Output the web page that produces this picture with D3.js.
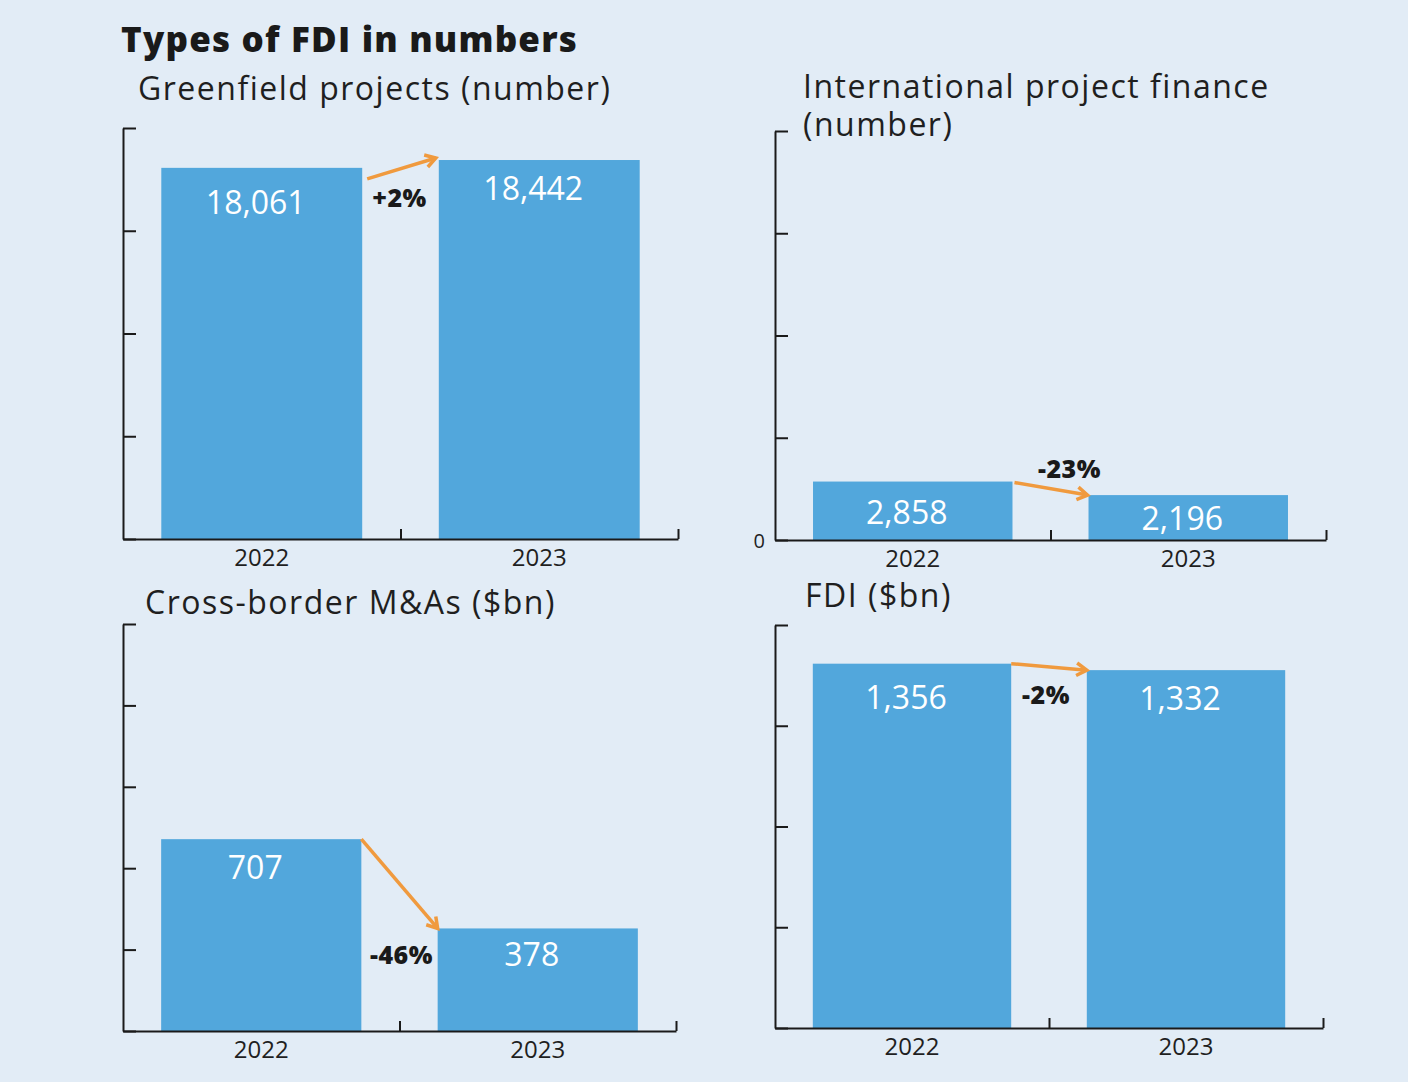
<!DOCTYPE html>
<html>
<head>
<meta charset="utf-8">
<script src="https://cdn.jsdelivr.net/npm/d3@7"></script>
<style>
  body { margin: 0; background: #e2ecf6; }
  svg { display: block; }
  .title { font-family: "Open Sans", sans-serif; font-weight: 800; fill: #1a1a1a; letter-spacing: 1.2px; }
  .sub { font-family: "Open Sans", sans-serif; font-weight: 500; fill: #1f1f1f; letter-spacing: 1.5px; }
  .val { font-family: "Open Sans", sans-serif; font-weight: 400; fill: #fff; }
  .year { font-family: "Open Sans", sans-serif; fill: #1f1f1f; }
  .pct { font-family: "Open Sans", sans-serif; font-weight: 800; fill: #1a1a1a; letter-spacing: 0.5px; }
  .axis path, .axis line { stroke: #1a1a1a; stroke-width: 2; }
</style>
</head>
<body>
<div id="chart"></div>
<script>
const years = ["2022", "2023"];
const greenfield = [18061, 18442];
const projectFinance = [2858, 2196];
const crossBorderMA = [707, 378];
const fdi = [1356, 1332];
const changes = ["+2%", "-23%", "-46%", "-2%"];
const countTicks = [0, 5000, 10000, 15000, 20000];
const bnTicksMA = [0, 300, 600, 900, 1200, 1500];
const bnTicksFDI = [0, 375, 750, 1125, 1500];

const width = 1408, height = 1082;
const barColor = "#52a7dc", arrowColor = "#f09a3e";

const svg = d3.select("#chart").append("svg")
    .attr("width", width)
    .attr("height", height);

svg.append("rect").attr("width", width).attr("height", height).attr("fill", "#e2ecf6");

svg.append("text").attr("class", "title")
    .attr("x", 121).attr("y", 52)
    .style("font-size", "35px")
    .text("Types of FDI in numbers");

// one small bar chart per panel
const panels = [
  {title: ["Greenfield projects (number)"], tx: 138, ty: 100, values: greenfield, ticks: countTicks,
   x0: 123, x1: 678, top: 128, bottom: 539, change: changes[0],
   a: [5, 11, -3, -2], pct: [-1, 207], lab: [46, 40], zero: false},
  {title: ["International project finance", "(number)"], tx: 803, ty: 98, values: projectFinance, ticks: countTicks,
   x0: 775, x1: 1326, top: 131, bottom: 540, change: changes[1],
   a: [2, 1, -1, 0], pct: [19, 478], lab: [42, 35], zero: true},
  {title: ["Cross-border M&As ($bn)"], tx: 145, ty: 614, values: crossBorderMA, ticks: bnTicksMA,
   x0: 123, x1: 676, top: 624, bottom: 1031, change: changes[2],
   a: [0, 0, 0, 0], pct: [2, 964], lab: [40, 38], zero: false},
  {title: ["FDI ($bn)"], tx: 805, ty: 607, values: fdi, ticks: bnTicksFDI,
   x0: 775, x1: 1323, top: 625, bottom: 1028, change: changes[3],
   a: [0, 0, 0, 0], pct: [-3, 704], lab: [45, 40], zero: false}
];

panels.forEach(p => {
  const g = svg.append("g");

  g.selectAll(".sub").data(p.title).join("text").attr("class", "sub")
      .attr("x", p.tx).attr("y", (d, i) => p.ty + i * 38)
      .style("font-size", "32px")
      .text(d => d);

  const x = d3.scaleBand().domain(years).range([p.x0, p.x1])
      .paddingInner(0.276).paddingOuter(0.138);
  const y = d3.scaleLinear().domain([0, d3.max(p.ticks)]).range([p.bottom, p.top]);

  // y axis, ticks pointing inward
  g.append("g").attr("class", "axis")
      .attr("transform", `translate(${p.x0},0)`)
      .call(d3.axisRight(y).tickValues(p.ticks).tickSizeInner(13).tickSizeOuter(0).tickFormat(""));

  const data = years.map((yr, i) => ({year: yr, value: p.values[i]}));

  g.selectAll(".bar").data(data).join("rect")
      .attr("x", d => x(d.year))
      .attr("y", d => y(d.value))
      .attr("width", x.bandwidth())
      .attr("height", d => y(0) - y(d.value))
      .attr("fill", barColor);

  // baseline with upward ticks at band edges
  const edge = d3.scaleLinear().domain([0, years.length]).range([p.x0, p.x1]);
  g.append("g").attr("class", "axis")
      .attr("transform", `translate(0,${p.bottom})`)
      .call(d3.axisBottom(edge).tickValues([1, 2]).tickSizeInner(-10).tickSizeOuter(0).tickFormat(""));

  g.selectAll(".year").data(data).join("text").attr("class", "year")
      .attr("x", d => x(d.year) + x.bandwidth() / 2)
      .attr("y", p.bottom + 27)
      .attr("text-anchor", "middle")
      .style("font-size", "24px")
      .text(d => d.year);

  g.selectAll(".val").data(data).join("text").attr("class", "val")
      .attr("x", d => x(d.year) + x.bandwidth() / 2 - 6)
      .attr("y", (d, i) => y(d.value) + p.lab[i])
      .attr("text-anchor", "middle")
      .style("font-size", "32px")
      .text(d => d3.format(",")(d.value));

  if (p.zero) {
    g.append("text").attr("class", "year")
        .attr("x", p.x0 - 10).attr("y", p.bottom + 8)
        .attr("text-anchor", "end")
        .style("font-size", "20px")
        .text("0");
  }

  // change arrow
  const sx = x(years[0]) + x.bandwidth() + p.a[0], sy = y(data[0].value) + p.a[1];
  const ex = x(years[1]) + p.a[2], ey = y(data[1].value) + p.a[3];
  const ang = Math.atan2(ey - sy, ex - sx), hl = 12, ha = 0.55;
  g.append("line")
      .attr("x1", sx).attr("y1", sy).attr("x2", ex).attr("y2", ey)
      .attr("stroke", arrowColor).attr("stroke-width", 3.5);
  g.append("path")
      .attr("d", `M${ex - hl * Math.cos(ang - ha)},${ey - hl * Math.sin(ang - ha)}L${ex},${ey}L${ex - hl * Math.cos(ang + ha)},${ey - hl * Math.sin(ang + ha)}`)
      .attr("fill", "none").attr("stroke", arrowColor).attr("stroke-width", 3.5)
      .attr("stroke-linejoin", "miter");

  const gapMid = (x(years[0]) + x.bandwidth() + x(years[1])) / 2;
  g.append("text").attr("class", "pct")
      .attr("x", gapMid + p.pct[0]).attr("y", p.pct[1])
      .attr("text-anchor", "middle")
      .style("font-size", "25px")
      .text(p.change);
});
</script>
</body>
</html>
